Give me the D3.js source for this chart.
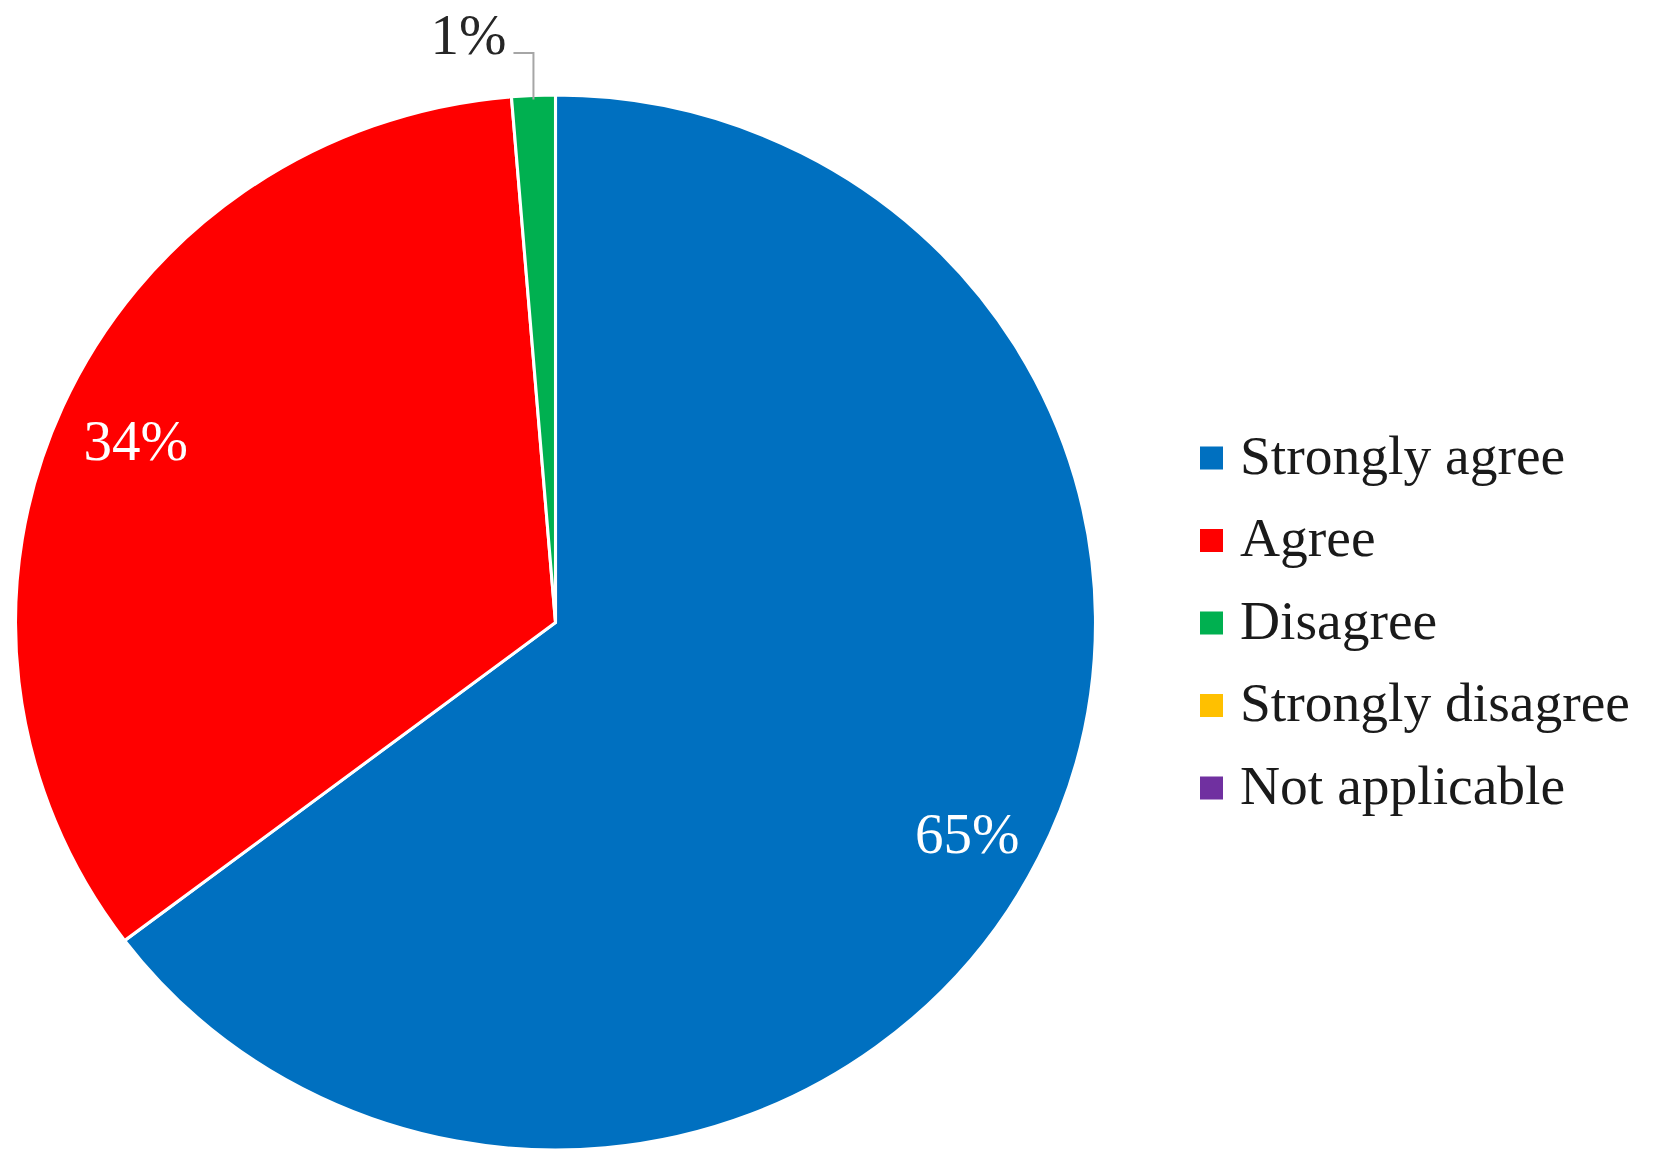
<!DOCTYPE html>
<html>
<head>
<meta charset="utf-8">
<script src="https://cdn.jsdelivr.net/npm/d3@7/dist/d3.min.js"></script>
<style>
  body { margin: 0; background: #fff; }
  text { font-family: "Palatino Linotype", "Book Antiqua", Palatino, "Liberation Serif", serif; }
</style>
</head>
<body>
<svg id="chart"></svg>
<script>
const categories = ["Strongly agree", "Agree", "Disagree", "Strongly disagree", "Not applicable"];
const shares = [64.7, 34.0, 1.3, 0, 0];
const shareLabels = ["65%", "34%", "1%", "", ""];
const colors = ["#0070C0", "#FF0000", "#00B050", "#FFC000", "#7030A0"];

const WIDTH = 1654;
const HEIGHT = 1169;

const CX = 555.5;
const CY = 622.5;
const RADIUS = 527.5;
const STRETCH_X = 540 / 527.5; // the pie is a touch wider than tall
const LABEL_RADIUS = 460;

const LEGEND_X = 1200;
const LEGEND_Y = 458;
const LEGEND_STEP = 82.5;
const SWATCH = 23;

const svg = d3.select("#chart")
  .attr("width", WIDTH)
  .attr("height", HEIGHT);

const data = categories.map((name, i) => ({
  name,
  value: shares[i],
  label: shareLabels[i],
  color: colors[i],
}));

const pie = d3.pie()
  .sort(null)
  .value((d) => d.value);

const arcs = pie(data).filter((d) => d.value > 0);

const arc = d3.arc().innerRadius(0).outerRadius(RADIUS);
const labelArc = d3.arc().innerRadius(LABEL_RADIUS).outerRadius(LABEL_RADIUS);

// slices
svg.append("g")
  .attr("transform", `translate(${CX}, ${CY}) scale(${STRETCH_X}, 1)`)
  .selectAll("path")
  .data(arcs)
  .join("path")
  .attr("d", arc)
  .attr("fill", (d) => d.data.color)
  .attr("stroke", "#fff")
  .attr("stroke-width", 3)
  .attr("stroke-linejoin", "miter");

// labels inside big slices
const inside = arcs.filter((d) => d.data.value >= 5);
svg.append("g")
  .selectAll("text")
  .data(inside)
  .join("text")
  .attr("x", (d) => CX + labelArc.centroid(d)[0])
  .attr("y", (d) => CY + labelArc.centroid(d)[1])
  .attr("dy", "0.45em")
  .attr("text-anchor", "middle")
  .attr("fill", "#fff")
  .attr("font-size", 57)
  .text((d) => d.data.label);

// small slices get an outside label with a leader line
const outside = arcs.filter((d) => d.data.value < 5);
const leaderY = CY - RADIUS - 42;
const outG = svg.append("g");

outside.forEach((d) => {
  const mid = (d.startAngle + d.endAngle) / 2;
  const x0 = CX + Math.sin(mid) * RADIUS * STRETCH_X;
  const y0 = CY - Math.cos(mid) * RADIUS + 4;
  const path = d3.path();
  path.moveTo(x0, y0);
  path.lineTo(x0, leaderY);
  path.lineTo(x0 - 20, leaderY);
  outG.append("path")
    .attr("d", path.toString())
    .attr("fill", "none")
    .attr("stroke", "#a6a6a6")
    .attr("stroke-width", 2);
  outG.append("text")
    .attr("x", x0 - 27)
    .attr("y", leaderY + 1)
    .attr("text-anchor", "end")
    .attr("fill", "#262626")
    .attr("font-size", 57)
    .text(d.data.label);
});

// legend
const legend = svg.append("g")
  .selectAll("g")
  .data(data)
  .join("g")
  .attr("transform", (d, i) => `translate(${LEGEND_X}, ${LEGEND_Y + i * LEGEND_STEP})`);

legend.append("rect")
  .attr("x", 0)
  .attr("y", -SWATCH / 2)
  .attr("width", SWATCH)
  .attr("height", SWATCH)
  .attr("fill", (d) => d.color);

legend.append("text")
  .attr("x", 40)
  .attr("y", 15.5)
  .attr("fill", "#1a1a1a")
  .attr("font-size", 55.5)
  .text((d) => d.name);
</script>
</body>
</html>
